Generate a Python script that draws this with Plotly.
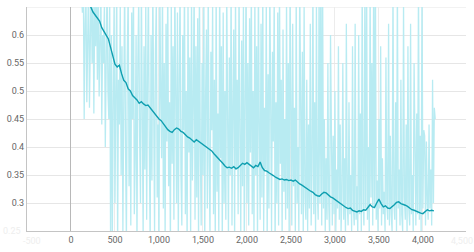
import plotly.graph_objects as go

# Raw (unsmoothed) values, one every 10 steps starting at step 60
raw_values = [
    0.72, 0.70, 0.68, 0.71, 0.66, 0.69, 0.67, 0.64, 0.70, 0.45, 0.62, 0.68, 0.48, 0.66, 0.70, 0.47, 0.60, 0.71, 0.55, 0.68,
    0.46, 0.66, 0.58, 0.70, 0.52, 0.67, 0.49, 0.63, 0.69, 0.44, 0.60, 0.55, 0.66, 0.40, 0.62, 0.70, 0.50, 0.45, 0.68, 0.22,
    0.60, 0.24, 0.48, 0.66, 0.30, 0.55, 0.70, 0.22, 0.52, 0.44, 0.66, 0.35, 0.58, 0.25, 0.62, 0.70, 0.40, 0.23, 0.56, 0.68,
    0.33, 0.50, 0.26, 0.64, 0.45, 0.70, 0.28, 0.38, 0.60, 0.22, 0.55, 0.67, 0.42, 0.30, 0.70, 0.48, 0.24, 0.58, 0.36, 0.66,
    0.27, 0.52, 0.69, 0.40, 0.23, 0.60, 0.34, 0.70, 0.46, 0.25, 0.57, 0.66, 0.31, 0.44, 0.22, 0.68, 0.50, 0.38, 0.70, 0.29,
    0.55, 0.24, 0.62, 0.41, 0.70, 0.33, 0.48, 0.22, 0.66, 0.37, 0.58, 0.27, 0.70, 0.45, 0.30, 0.64, 0.23, 0.52, 0.69, 0.35,
    0.26, 0.60, 0.43, 0.70, 0.28, 0.50, 0.22, 0.66, 0.39, 0.56, 0.24, 0.68, 0.34, 0.47, 0.70, 0.27, 0.58, 0.31, 0.63, 0.23,
    0.70, 0.40, 0.26, 0.55, 0.35, 0.68, 0.22, 0.49, 0.61, 0.29, 0.70, 0.37, 0.24, 0.57, 0.43, 0.66, 0.28, 0.52, 0.23, 0.69,
    0.32, 0.46, 0.25, 0.70, 0.38, 0.58, 0.22, 0.64, 0.30, 0.50, 0.27, 0.69, 0.41, 0.24, 0.56, 0.35, 0.70, 0.26, 0.47, 0.61,
    0.23, 0.68, 0.36, 0.52, 0.28, 0.70, 0.42, 0.25, 0.59, 0.33, 0.66, 0.22, 0.48, 0.70, 0.30, 0.55, 0.26, 0.63, 0.39, 0.70,
    0.28, 0.50, 0.24, 0.67, 0.35, 0.58, 0.22, 0.70, 0.44, 0.27, 0.62, 0.31, 0.70, 0.25, 0.47, 0.36, 0.66, 0.23, 0.53, 0.29,
    0.70, 0.34, 0.25, 0.57, 0.41, 0.68, 0.22, 0.48, 0.30, 0.64, 0.26, 0.70, 0.37, 0.52, 0.24, 0.61, 0.32, 0.45, 0.27, 0.67,
    0.29, 0.55, 0.23, 0.70, 0.36, 0.26, 0.62, 0.33, 0.47, 0.24, 0.68, 0.30, 0.40, 0.25, 0.70, 0.35, 0.28, 0.57, 0.24, 0.66,
    0.31, 0.27, 0.52, 0.25, 0.44, 0.29, 0.62, 0.26, 0.36, 0.70, 0.28, 0.48, 0.24, 0.66, 0.32, 0.27, 0.70, 0.30, 0.72, 0.26,
    0.70, 0.29, 0.45, 0.25, 0.38, 0.27, 0.55, 0.30, 0.24, 0.60, 0.33, 0.26, 0.42, 0.28, 0.50, 0.25, 0.36, 0.29, 0.58, 0.27,
    0.44, 0.25, 0.31, 0.55, 0.27, 0.38, 0.24, 0.62, 0.30, 0.26, 0.48, 0.28, 0.35, 0.25, 0.58, 0.29, 0.26, 0.62, 0.27, 0.33,
    0.24, 0.60, 0.28, 0.46, 0.25, 0.70, 0.30, 0.26, 0.66, 0.29, 0.72, 0.27, 0.40, 0.25, 0.70, 0.31, 0.55, 0.26, 0.70, 0.29,
    0.72, 0.27, 0.34, 0.25, 0.45, 0.29, 0.58, 0.26, 0.38, 0.28, 0.32, 0.25, 0.56, 0.30, 0.27, 0.62, 0.26, 0.42, 0.28, 0.25,
    0.70, 0.30, 0.27, 0.48, 0.25, 0.70, 0.29, 0.36, 0.26, 0.52, 0.28, 0.25, 0.66, 0.31, 0.27, 0.44, 0.25, 0.58, 0.29, 0.26,
    0.62, 0.28, 0.35, 0.25, 0.55, 0.30, 0.26, 0.46, 0.28, 0.70, 0.27, 0.42, 0.25, 0.70, 0.29, 0.43, 0.42, 0.26, 0.41, 0.30,
    0.27, 0.44, 0.29, 0.36, 0.26, 0.52, 0.30, 0.47, 0.45,
]
raw_steps = [60 + 10 * i for i in range(len(raw_values))]

# Smoothed values, one every 25 steps starting at step 150
smooth_values = [
    0.690, 0.676, 0.665, 0.650, 0.641, 0.636, 0.629, 0.625, 0.613, 0.606,
    0.598, 0.593, 0.578, 0.560, 0.548, 0.543, 0.546, 0.531, 0.519, 0.515,
    0.504, 0.500, 0.492, 0.488, 0.484, 0.478, 0.481, 0.477, 0.474, 0.475,
    0.470, 0.463, 0.459, 0.455, 0.450, 0.447, 0.441, 0.436, 0.431, 0.428,
    0.426, 0.431, 0.434, 0.432, 0.428, 0.426, 0.422, 0.418, 0.416, 0.412,
    0.409, 0.413, 0.410, 0.407, 0.404, 0.402, 0.399, 0.396, 0.393, 0.388,
    0.384, 0.379, 0.375, 0.371, 0.366, 0.363, 0.364, 0.362, 0.365, 0.361,
    0.363, 0.368, 0.371, 0.369, 0.372, 0.369, 0.366, 0.363, 0.367, 0.365,
    0.373, 0.363, 0.358, 0.357, 0.354, 0.352, 0.349, 0.346, 0.344, 0.342,
    0.343, 0.341, 0.342, 0.340, 0.341, 0.339, 0.341, 0.337, 0.334, 0.332,
    0.329, 0.327, 0.324, 0.321, 0.319, 0.315, 0.313, 0.312, 0.316, 0.319,
    0.318, 0.314, 0.311, 0.309, 0.306, 0.304, 0.301, 0.298, 0.295, 0.292,
    0.290, 0.291, 0.287, 0.285, 0.284, 0.286, 0.285, 0.288, 0.287, 0.292,
    0.297, 0.293, 0.292, 0.300, 0.307, 0.299, 0.293, 0.295, 0.291, 0.290,
    0.293, 0.297, 0.301, 0.302, 0.299, 0.298, 0.296, 0.294, 0.291, 0.288,
    0.287, 0.285, 0.283, 0.282, 0.281, 0.285, 0.288, 0.286, 0.287, 0.286,
]
smooth_steps = [150 + 25 * i for i in range(len(smooth_values))]

x_ticks = [0, 500, 1000, 1500, 2000, 2500, 3000, 3500, 4000]
y_ticks = [0.3, 0.35, 0.4, 0.45, 0.5, 0.55, 0.6]

fig = go.Figure()
fig.add_trace(go.Scatter(
    x=raw_steps, y=raw_values, mode="lines",
    line=dict(color="#b8ebf2", width=1.3),
    hoverinfo="skip", showlegend=False,
))
fig.add_trace(go.Scatter(
    x=smooth_steps, y=smooth_values, mode="lines",
    line=dict(color="#0f9fb0", width=1.4),
    showlegend=False,
))

font = dict(family="Roboto, sans-serif", size=9, color="#666666")
fig.update_layout(
    width=474, height=252,
    margin=dict(l=26, r=8, t=7, b=19),
    paper_bgcolor="white", plot_bgcolor="white",
    font=font,
    xaxis=dict(
        range=[-500, 4490], tickvals=x_ticks, tickformat=",d",
        showgrid=True, gridcolor="#ececec", gridwidth=1,
        zeroline=True, zerolinecolor="#b8b8b8", zerolinewidth=1,
        showline=True, linecolor="#c4c4c4", linewidth=1,
        ticks="", tickfont=font,
    ),
    yaxis=dict(
        range=[0.25, 0.65], tickvals=y_ticks,
        showgrid=True, gridcolor="#e6e6e6", gridwidth=1,
        zeroline=False,
        showline=True, linecolor="#c4c4c4", linewidth=1,
        ticks="", tickfont=font,
    ),
)
fig.add_hline(y=0.65, line=dict(color="#e6e6e6", width=1), layer="below")

faint = dict(family="Roboto, sans-serif", size=9, color="#eeeeee")
fig.add_annotation(x=-440, y=0.25, xref="x", yref="y", text="-500", showarrow=False,
                   yshift=-10, font=faint)
fig.add_annotation(x=4440, y=0.25, xref="x", yref="y", text="4,500", showarrow=False,
                   yshift=-10, font=faint)
fig.add_annotation(x=0, y=0.25, xref="paper", yref="y", text="0.25", showarrow=False,
                   xanchor="right", xshift=-4, font=faint)

fig.write_html("out.html")
